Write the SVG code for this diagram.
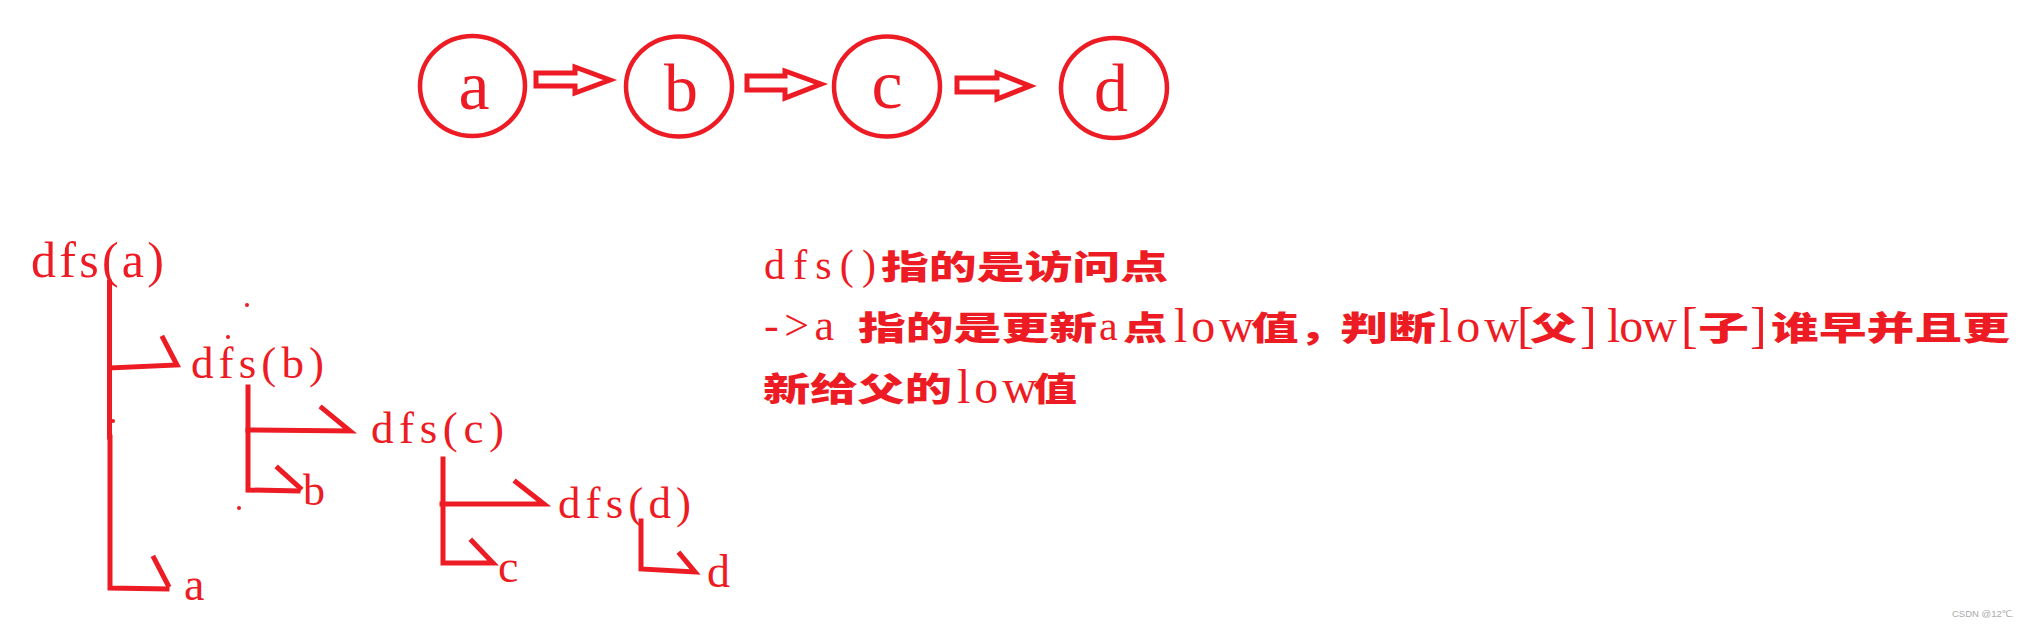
<svg xmlns="http://www.w3.org/2000/svg" width="2028" height="626" viewBox="0 0 2028 626">
<style>
.lat{font-family:"Liberation Serif","Times New Roman",serif;fill:#ED1C24}
.cjk{font-family:"Noto Sans CJK SC","Noto Sans CJK TC",sans-serif;font-weight:900;fill:#ED1C24;font-size:33px}
.node{fill:none;stroke:#ED1C24;stroke-width:4.5}
.blk{fill:none;stroke:#ED1C24;stroke-width:5;stroke-linejoin:miter}
.ln{fill:none;stroke:#ED1C24;stroke-width:5;stroke-linecap:square;stroke-linejoin:miter}
.dot{fill:#ED1C24}
.wm{font-family:"Liberation Sans",Arial,sans-serif;font-size:9.5px;fill:#aaaaaa}
</style>
<rect width="2028" height="626" fill="#ffffff"/>

<g id="node-a"><ellipse class="node" cx="472.5" cy="86" rx="52.5" ry="50"/><text class="lat" x="474" y="109" font-size="70" text-anchor="middle">a</text></g>
<g id="node-b"><ellipse class="node" cx="679" cy="86.5" rx="53" ry="50"/><text class="lat" x="681" y="111" font-size="68" text-anchor="middle">b</text></g>
<g id="node-c"><ellipse class="node" cx="887" cy="86.5" rx="53" ry="50"/><text class="lat" x="887" y="108" font-size="70" text-anchor="middle">c</text></g>
<g id="node-d"><ellipse class="node" cx="1114" cy="88" rx="53" ry="50"/><text class="lat" x="1111" y="111" font-size="68" text-anchor="middle">d</text></g>

<g id="connectors">
<path class="blk" d="M536 73 H575 V67 L610 80 L575 93 V86 H536 Z"/>
<path class="blk" d="M747 76 H785 V71 L821 84 L785 98 V90 H747 Z"/>
<path class="blk" d="M957 78 H997 V73 L1030 86 L997 99 V92 H957 Z"/>
<path class="ln" d="M109.5 282 L109.5 437 M110 437 L110 588 L167 589"/>
<path class="ln" d="M168 585 L154 558"/>
<path class="ln" d="M110 368 L177 365 L163 338"/>
<path class="ln" d="M248 387 L248 490 L298 491"/>
<path class="ln" d="M300 488 L278 468"/>
<path class="ln" d="M248 430 L350 431 L322 408"/>
<path class="ln" d="M443 459 L443 563 L493 563 L472 541"/>
<path class="ln" d="M442 504 L544 504 L516 482"/>
<path class="ln" d="M641 521 L641 569 L695 572 L680 554"/>
<circle class="dot" cx="113" cy="421" r="2"/>
<circle class="dot" cx="247" cy="305" r="2"/>
<circle class="dot" cx="228" cy="337" r="2"/>
<circle class="dot" cx="239" cy="508" r="2"/>
</g>

<g id="dfs-a"><text class="lat" x="31" y="277" font-size="50" textLength="133" lengthAdjust="spacing">dfs(a)</text></g>
<g id="dfs-b"><text class="lat" x="191" y="378" font-size="45" textLength="133" lengthAdjust="spacing">dfs(b)</text></g>
<g id="dfs-c"><text class="lat" x="371" y="443" font-size="45" textLength="133" lengthAdjust="spacing">dfs(c)</text></g>
<g id="dfs-d"><text class="lat" x="558" y="518" font-size="45" textLength="133" lengthAdjust="spacing">dfs(d)</text></g>
<g id="leaf-a"><text class="lat" x="184" y="600" font-size="46">a</text></g>
<g id="leaf-b"><text class="lat" x="303" y="505" font-size="44">b</text></g>
<g id="leaf-c"><text class="lat" x="498" y="582" font-size="46">c</text></g>
<g id="leaf-d"><text class="lat" x="707" y="587" font-size="46">d</text></g>

<g id="notes">
<text class="lat" x="764" y="279" font-size="42" textLength="112" lengthAdjust="spacing">dfs()</text>
<text class="cjk" x="881" y="279" textLength="287" lengthAdjust="spacingAndGlyphs">指的是访问点</text>

<text class="lat" x="764" y="340" font-size="44" textLength="70" lengthAdjust="spacing">-&gt;a</text>
<text class="cjk" x="858" y="340" textLength="239" lengthAdjust="spacingAndGlyphs">指的是更新</text>
<text class="lat" x="1099" y="340" font-size="42">a</text>
<text class="cjk" x="1123" y="340" textLength="44" lengthAdjust="spacingAndGlyphs">点</text>
<text class="lat" x="1174" y="342" font-size="48" textLength="80" lengthAdjust="spacing">low</text>
<text class="cjk" x="1251" y="340" textLength="95" lengthAdjust="spacingAndGlyphs">值，</text>
<text class="cjk" x="1340" y="340" textLength="96" lengthAdjust="spacingAndGlyphs">判断</text>
<text class="lat" x="1439" y="342" font-size="48" textLength="80" lengthAdjust="spacing">low</text>
<text class="lat" x="1517" y="342" font-size="50">[</text>
<text class="cjk" x="1530" y="340" textLength="47" lengthAdjust="spacingAndGlyphs">父</text>
<text class="lat" x="1580" y="342" font-size="50">]</text>
<text class="lat" x="1607" y="342" font-size="48" textLength="70" lengthAdjust="spacing">low</text>
<text class="lat" x="1681" y="342" font-size="50">[</text>
<text class="cjk" x="1698" y="340" textLength="51" lengthAdjust="spacingAndGlyphs">子</text>
<text class="lat" x="1750" y="342" font-size="50">]</text>
<text class="cjk" x="1771" y="340" textLength="239" lengthAdjust="spacingAndGlyphs">谁早并且更</text>

<text class="cjk" x="763" y="401" textLength="189" lengthAdjust="spacingAndGlyphs">新给父的</text>
<text class="lat" x="957" y="403" font-size="48" textLength="80" lengthAdjust="spacing">low</text>
<text class="cjk" x="1033" y="401" textLength="44" lengthAdjust="spacingAndGlyphs">值</text>
</g>

<text class="wm" x="1952" y="617">CSDN @12℃.</text>
</svg>
